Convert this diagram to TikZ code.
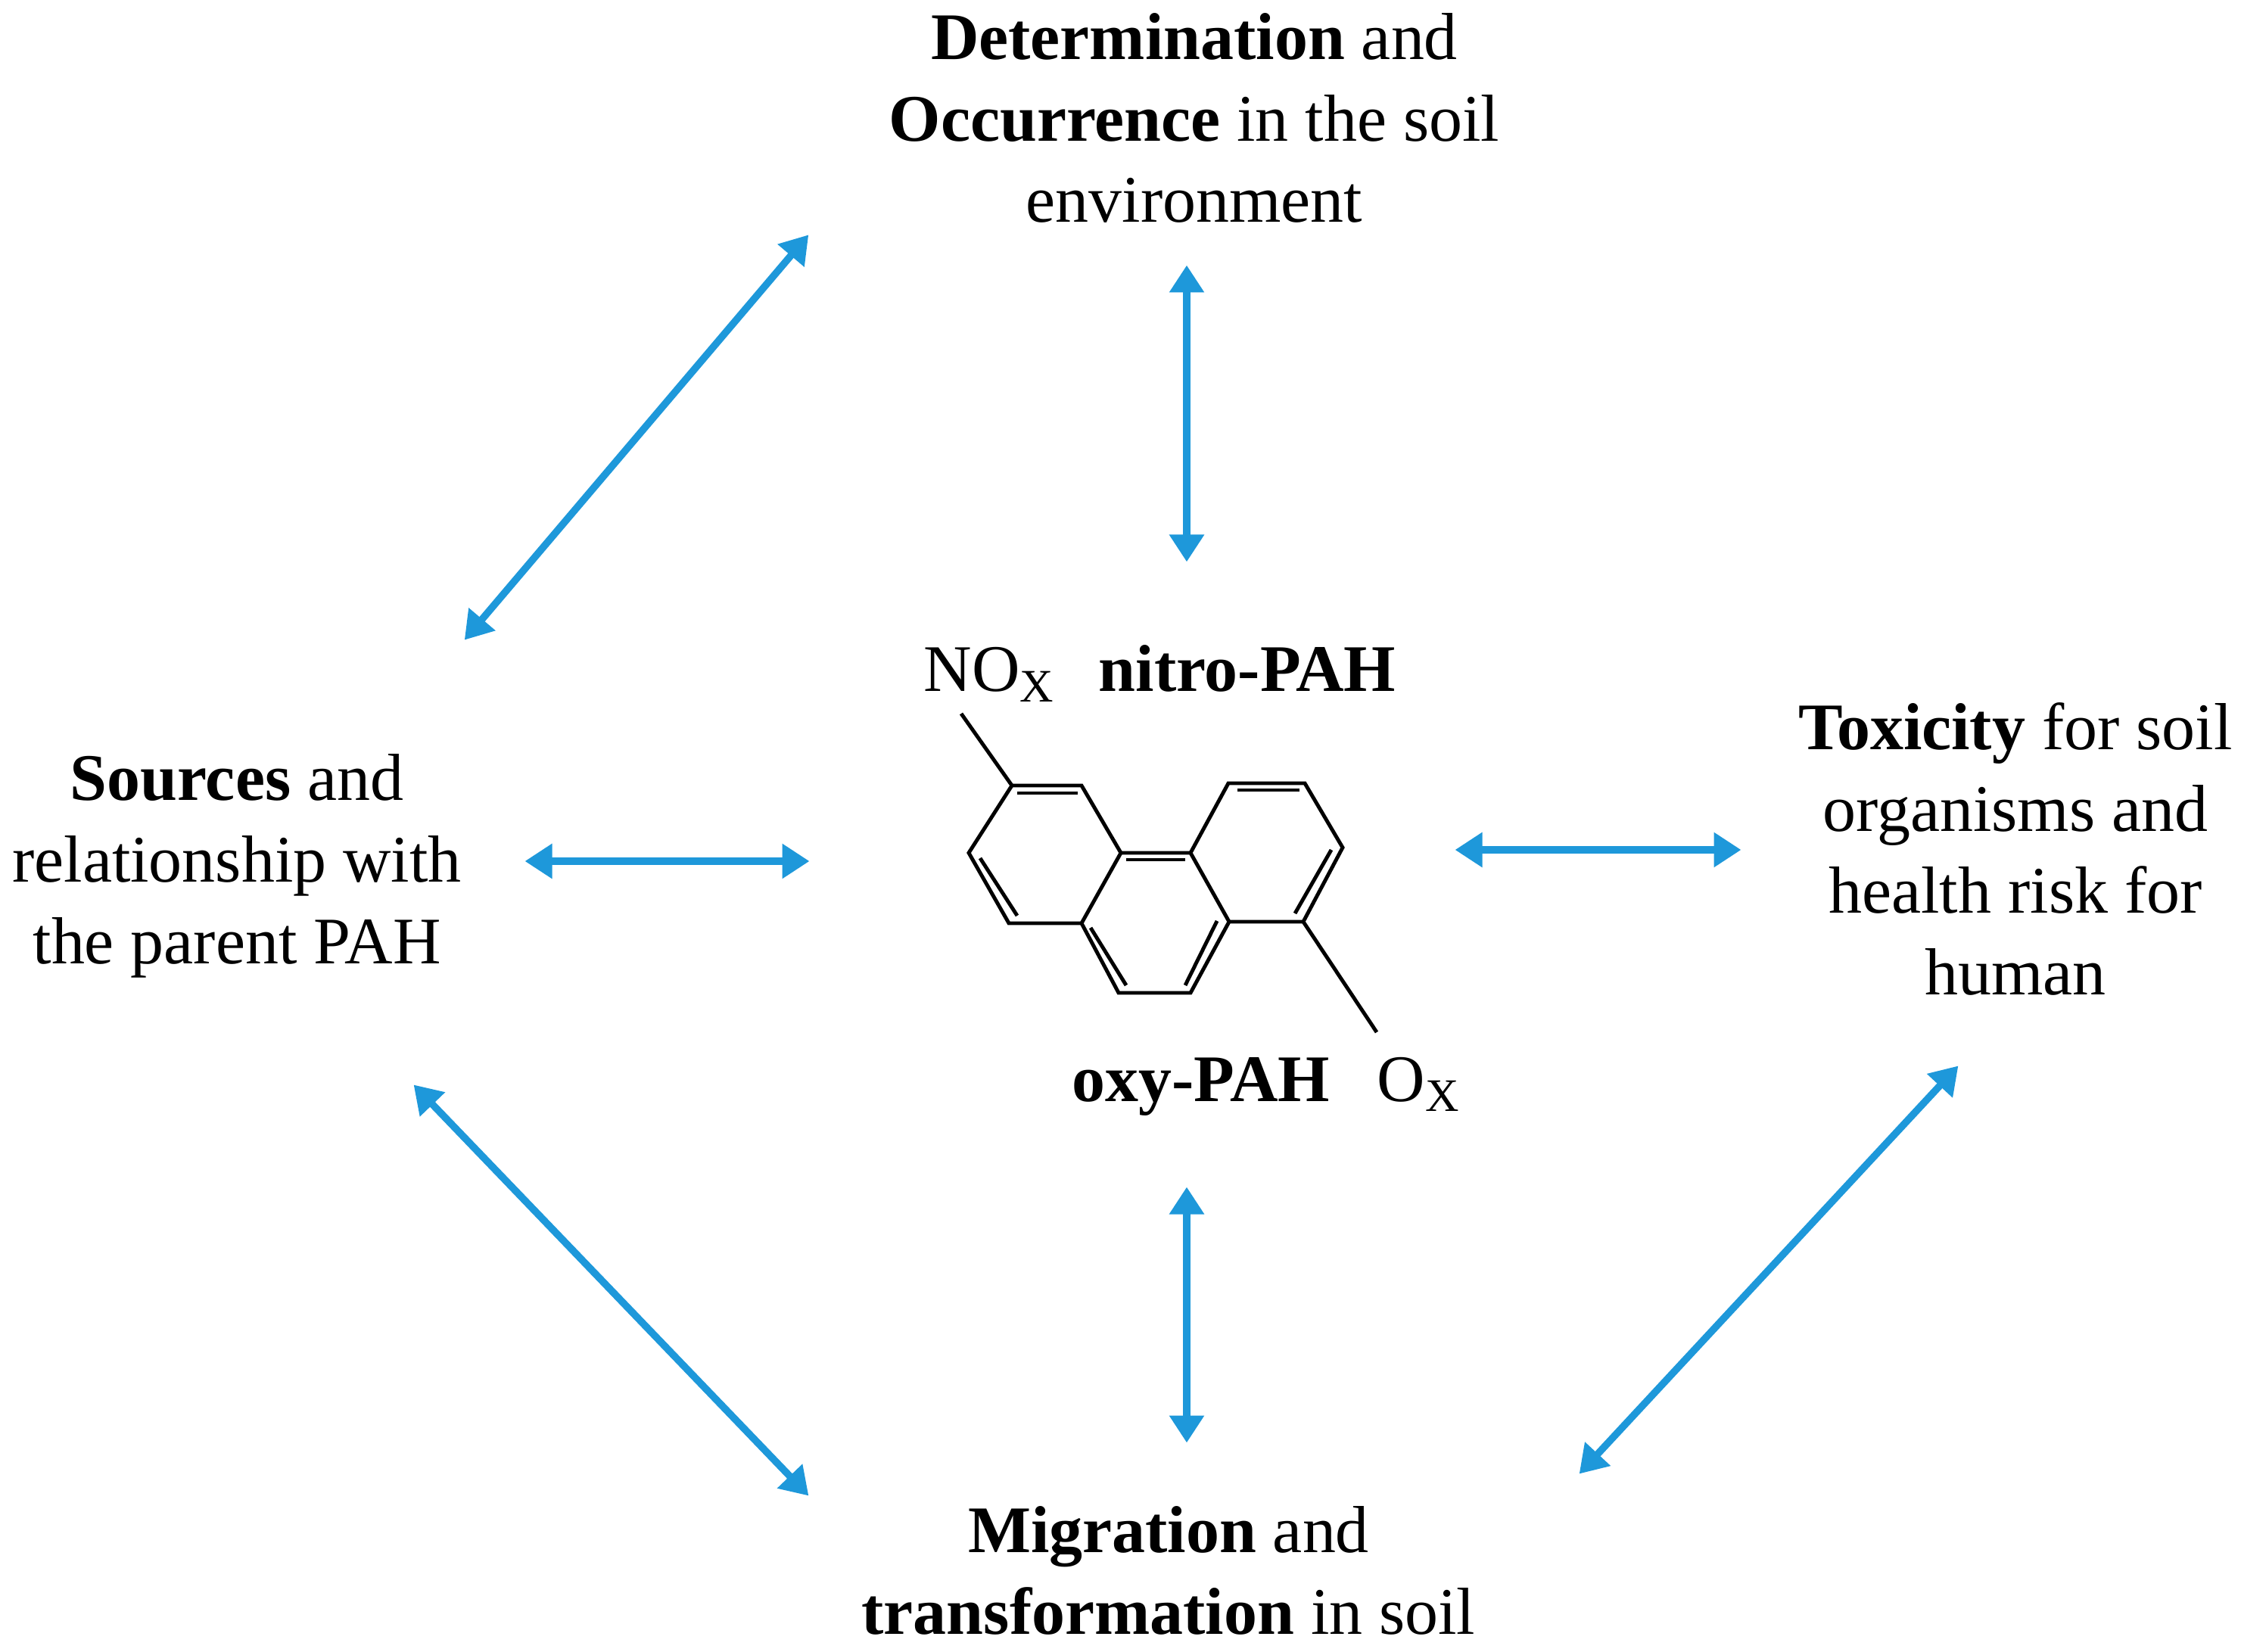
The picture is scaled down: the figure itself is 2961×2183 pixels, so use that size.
\documentclass[tikz,border=0pt]{standalone}
\usepackage{fontspec}
\setmainfont{Liberation Serif}
\usetikzlibrary{arrows.meta}
\definecolor{arr}{RGB}{30,152,218}
\begin{document}
\begin{tikzpicture}[x=0.01cm,y=-0.01cm,
  txt/.style={align=center,anchor=base,inner sep=0pt,font=\fontsize{25}{30.7}\selectfont},
  lbl/.style={anchor=base west,inner sep=0pt,font=\fontsize{25}{30.7}\selectfont},
  link/.style={draw=arr,line width=2.7pt,{Triangle[length=0.36cm,width=0.44cm]}-{Triangle[length=0.36cm,width=0.44cm]},shorten <=-1pt,shorten >=-1pt},
  bond/.style={draw=black,line width=1.4pt,line join=miter}]
\useasboundingbox (0,0) rectangle (2961,2183);
% texts (anchor = baseline of last line)
\node[txt] (top) at (1578,294) {\textbf{Determination} and\\\textbf{Occurrence} in the soil\\environment};
\node[txt] (left) at (313,1273) {\textbf{Sources} and\\relationship with\\the parent PAH};
\node[txt] (right) at (2663,1314) {\textbf{Toxicity} for soil\\organisms and\\health risk for\\human};
\node[txt] (bot) at (1544,2159) {\textbf{Migration} and\\\textbf{transformation} in soil};
\node[lbl] (nox) at (1220,914) {NO\textsubscript{X}};
\node[lbl] (nitro) at (1451,914) {\textbf{nitro-PAH}};
\node[lbl] (oxy) at (1416,1455) {\textbf{oxy-PAH}};
\node[lbl] (ox) at (1819,1455) {O\textsubscript{X}};
% molecule
\coordinate (A1) at (1337,1038); \coordinate (A2) at (1429,1038);
\coordinate (A3) at (1481,1127); \coordinate (A4) at (1429,1220);
\coordinate (A5) at (1333,1220); \coordinate (A6) at (1280,1127);
\coordinate (B1) at (1573,1127); \coordinate (B2) at (1624,1218);
\coordinate (B3) at (1573,1312); \coordinate (B4) at (1478,1312);
\coordinate (C1) at (1623,1035); \coordinate (C2) at (1724,1035);
\coordinate (C3) at (1774,1120); \coordinate (C4) at (1722,1218);
\coordinate (S1) at (1270,943); \coordinate (S2) at (1819,1364);
\draw[bond] (A1)--(A2)--(A3)--(A4)--(A5)--(A6)--cycle;
\draw[bond] (A3)--(B1)--(B2)--(B3)--(B4)--(A4);
\draw[bond] (B1)--(C1)--(C2)--(C3)--(C4)--(B2);
\draw[bond] (A1)--(S1); \draw[bond] (C4)--(S2);
% inner double bond lines
\draw[bond] (1344,1048)--(1424,1048);
\draw[bond] (1295,1134)--(1344,1210);
\draw[bond] (1488,1136)--(1566,1136);
\draw[bond] (1441,1226)--(1488,1302);
\draw[bond] (1608,1217)--(1566,1302);
\draw[bond] (1635,1044)--(1717,1044);
\draw[bond] (1759,1123)--(1711,1207);
% arrows
\coordinate (t1) at (1568,354); \coordinate (t2) at (1568,739);
\coordinate (d1) at (1066,313); \coordinate (d2) at (616,843);
\coordinate (l1) at (697,1138); \coordinate (l2) at (1066,1138);
\coordinate (r1) at (1926,1123); \coordinate (r2) at (2297,1123);
\coordinate (b1) at (1568,1572); \coordinate (b2) at (1568,1903);
\coordinate (e1) at (549,1436); \coordinate (e2) at (1066,1974);
\coordinate (f1) at (2585,1411); \coordinate (f2) at (2089,1945);
\draw[link] (t1)--(t2);
\draw[link] (d1)--(d2);
\draw[link] (l1)--(l2);
\draw[link] (r1)--(r2);
\draw[link] (b1)--(b2);
\draw[link] (e1)--(e2);
\draw[link] (f1)--(f2);
\end{tikzpicture}
\end{document}
